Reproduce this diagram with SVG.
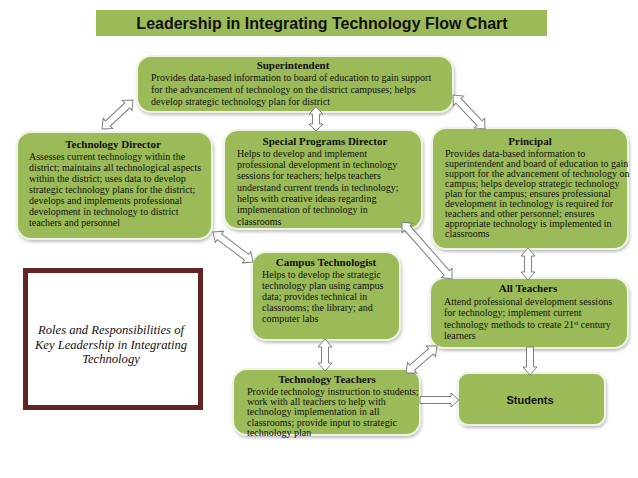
<svg xmlns="http://www.w3.org/2000/svg" width="638" height="478" viewBox="0 0 638 478">
<style>
.box{fill:#9bbb59;stroke:#eef3e4;stroke-width:2;filter:url(#sh)}
.t{font-family:"Liberation Serif",serif;font-size:10px;fill:#111}
.h{font-family:"Liberation Serif",serif;font-size:11px;font-weight:bold;fill:#111;text-anchor:middle}
.arr{fill:#fff;stroke:#7f7f7f;stroke-width:1}
</style>
<defs>
<filter id="sh" x="-10%" y="-10%" width="120%" height="130%">
<feDropShadow dx="1" dy="2" stdDeviation="1.5" flood-color="#000" flood-opacity="0.25"/>
</filter>
</defs>
<rect width="638" height="478" fill="#fff"/>
<g id="title">
<rect x="96" y="10" width="451" height="26" fill="#9bbb59"/>
<text x="322" y="29" font-family="Liberation Sans,Arial,sans-serif" font-size="16" font-weight="bold" text-anchor="middle" fill="#111">Leadership in Integrating Technology Flow Chart</text>
</g>
<g id="superintendent">
<rect class="box" x="137" y="56" width="316" height="56" rx="14"/>
<text class="h" x="293" y="69">Superintendent</text>
<text class="t" x="151" y="81" font-size="10.8">Provides data-based information to board of education to gain support</text>
<text class="t" x="151" y="93" font-size="10.8">for the advancement of technology on the district campuses; helps</text>
<text class="t" x="151" y="105" font-size="10.8">develop strategic technology plan for district</text>
</g>
<g id="techdirector">
<rect class="box" x="17" y="132" width="195" height="107" rx="14"/>
<text class="h" x="113" y="148">Technology Director</text>
<text class="t" x="29" y="160">Assesses current technology within the</text>
<text class="t" x="29" y="171">district; maintains all technological aspects</text>
<text class="t" x="29" y="182">within the district; uses data to develop</text>
<text class="t" x="29" y="193">strategic technology plans for the district;</text>
<text class="t" x="29" y="204">develops and implements professional</text>
<text class="t" x="29" y="215">development in technology to district</text>
<text class="t" x="29" y="226">teachers and personnel</text>
</g>
<g id="specialprograms">
<rect class="box" x="224" y="130" width="198" height="99" rx="14"/>
<text class="h" x="325" y="145">Special Programs Director</text>
<text class="t" x="237" y="157" font-size="10.4">Helps to develop and implement</text>
<text class="t" x="237" y="168" font-size="10.4">professional development in technology</text>
<text class="t" x="237" y="179" font-size="10.4">sessions for teachers; helps teachers</text>
<text class="t" x="237" y="191" font-size="10.4">understand current trends in technology;</text>
<text class="t" x="237" y="202" font-size="10.4">helps with creative ideas regarding</text>
<text class="t" x="237" y="213" font-size="10.4">implementation of technology in</text>
<text class="t" x="237" y="225" font-size="10.4">classrooms</text>
</g>
<g id="principal">
<rect class="box" x="432" y="128" width="196" height="121" rx="14"/>
<text class="h" x="530" y="145">Principal</text>
<text class="t" x="445" y="157" font-size="9.5">Provides data-based information to</text>
<text class="t" x="445" y="167" font-size="9.5">superintendent and board of education to gain</text>
<text class="t" x="445" y="177" font-size="9.5">support for the advancement of technology on</text>
<text class="t" x="445" y="187" font-size="9.5">campus; helps develop strategic technology</text>
<text class="t" x="445" y="197" font-size="9.5">plan for the campus; ensures professional</text>
<text class="t" x="445" y="207" font-size="9.5">development in technology is required for</text>
<text class="t" x="445" y="217" font-size="9.5">teachers and other personnel; ensures</text>
<text class="t" x="445" y="227" font-size="9.5">appropriate technology is implemented in</text>
<text class="t" x="445" y="237" font-size="9.5">classrooms</text>
</g>
<g id="campustech">
<rect class="box" x="252" y="252" width="148" height="88" rx="14"/>
<text class="h" x="326" y="266">Campus Technologist</text>
<text class="t" x="262" y="278" font-size="10.8">Helps to develop the strategic</text>
<text class="t" x="262" y="289" font-size="10.8">technology plan using campus</text>
<text class="t" x="262" y="300" font-size="10.8">data; provides technical in</text>
<text class="t" x="262" y="311" font-size="10.8">classrooms; the library; and</text>
<text class="t" x="262" y="322" font-size="10.8">computer labs</text>
</g>
<g id="allteachers">
<rect class="box" x="430" y="278" width="198" height="70" rx="14"/>
<text class="h" x="528" y="292">All Teachers</text>
<text class="t" x="444" y="305" font-size="10.4">Attend professional development sessions</text>
<text class="t" x="444" y="316" font-size="10.4">for technology; implement current</text>
<text class="t" x="444" y="328" font-size="10.4">technology methods to create 21<tspan font-size="6.5" dy="-3.5">st</tspan><tspan dy="3.5"> century</tspan></text>
<text class="t" x="444" y="339" font-size="10.4">learners</text>
</g>
<g id="techteachers">
<rect class="box" x="233" y="369" width="187" height="66" rx="14"/>
<text class="h" x="327" y="383">Technology Teachers</text>
<text class="t" x="247" y="395" font-size="9.4">Provide technology instruction to students;</text>
<text class="t" x="247" y="405" font-size="9.4">work with all teachers to help with</text>
<text class="t" x="247" y="415" font-size="9.4">technology implementation in all</text>
<text class="t" x="247" y="426" font-size="9.4">classrooms; provide input to strategic</text>
<text class="t" x="247" y="436" font-size="9.4">technology plan</text>
</g>
<g id="students">
<rect class="box" x="458" y="373" width="147" height="52" rx="10"/>
<text x="530" y="404" font-family="Liberation Sans,Arial,sans-serif" font-size="11" font-weight="bold" text-anchor="middle" fill="#111">Students</text>
</g>
<g id="roles">
<rect x="25.5" y="270.5" width="175" height="137" fill="#fff" stroke="#632523" stroke-width="5"/>
<text x="111" y="334" font-family="Liberation Serif,serif" font-size="12.6" font-style="italic" text-anchor="middle" fill="#111">Roles and Responsibilities of</text>
<text x="111" y="349" font-family="Liberation Serif,serif" font-size="12.6" font-style="italic" text-anchor="middle" fill="#111">Key Leadership in Integrating</text>
<text x="111" y="363" font-family="Liberation Serif,serif" font-size="12.6" font-style="italic" text-anchor="middle" fill="#111">Technology</text>
</g>
<g id="connectors">
<polygon class="arr" transform="translate(133,100) rotate(136.9)" points="0,0 8,-7 8,-3.5 34.4,-3.5 34.4,-7 42.4,0 34.4,7 34.4,3.5 8,3.5 8,7"/>
<polygon class="arr" transform="translate(453,95) rotate(46.7)" points="0,0 8,-7 8,-3.5 38.7,-3.5 38.7,-7 46.7,0 38.7,7 38.7,3.5 8,3.5 8,7"/>
<polygon class="arr" transform="translate(316,107) rotate(90)" points="0,0 7,-7 7,-3.5 17,-3.5 17,-7 24,0 17,7 17,3.5 7,3.5 7,7"/>
<polygon class="arr" transform="translate(213,232) rotate(36.87)" points="0,0 8,-7 8,-3.5 42,-3.5 42,-7 50,0 42,7 42,3.5 8,3.5 8,7"/>
<polygon class="arr" transform="translate(402,222) rotate(48.7)" points="0,0 8,-7 8,-3.5 67.8,-3.5 67.8,-7 75.8,0 67.8,7 67.8,3.5 8,3.5 8,7"/>
<polygon class="arr" transform="translate(528,248) rotate(90)" points="0,0 8,-7 8,-3.5 24,-3.5 24,-7 32,0 24,7 24,3.5 8,3.5 8,7"/>
<polygon class="arr" transform="translate(325,339) rotate(90)" points="0,0 8,-7 8,-3.5 24,-3.5 24,-7 32,0 24,7 24,3.5 8,3.5 8,7"/>
<polygon class="arr" transform="translate(437,346) rotate(138.9)" points="0,0 8,-7 8,-3.5 33.1,-3.5 33.1,-7 41.1,0 33.1,7 33.1,3.5 8,3.5 8,7"/>
<polygon class="arr" transform="translate(530,347) rotate(90)" points="0,-3.5 20,-3.5 20,-7 28,0 20,7 20,3.5 0,3.5"/>
<polygon class="arr" transform="translate(420,400)" points="0,-3.5 31,-3.5 31,-7 39,0 31,7 31,3.5 0,3.5"/>
</g>
</svg>
